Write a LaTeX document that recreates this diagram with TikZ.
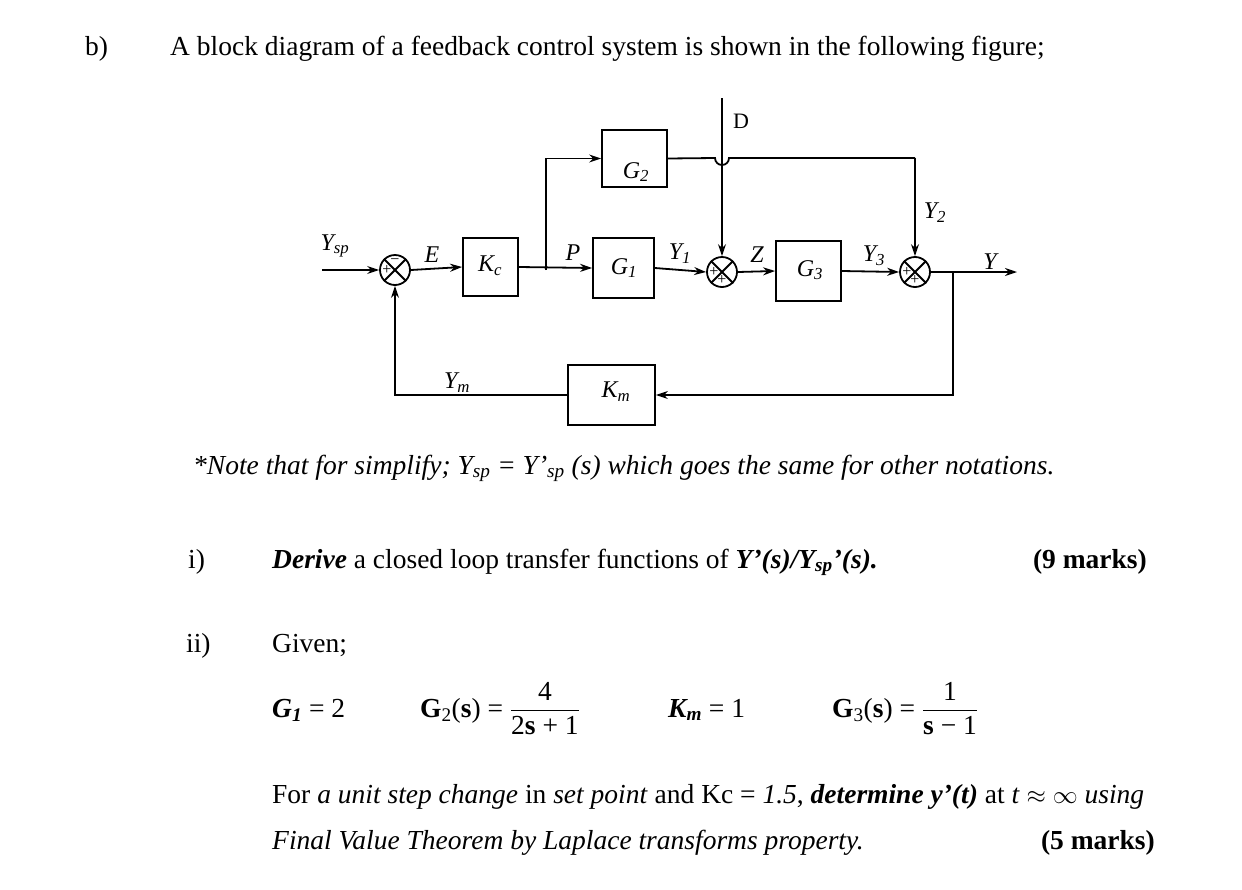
\documentclass[tikz,border=0pt]{standalone}
\usepackage{amsmath,amssymb}
\usepackage{fontspec}
\setmainfont{Liberation Serif}
\usetikzlibrary{arrows.meta}
\begin{document}
\begin{tikzpicture}[x=1pt,y=-1pt,
  blk/.style={draw,line width=1.8pt,inner sep=0pt},
  sum/.style={draw,circle,line width=1.8pt,minimum size=30pt,inner sep=0pt},
  ln/.style={line width=1.8pt},
  ar/.style={line width=1.8pt,-{Stealth[length=12pt,width=8pt]}},
  lab/.style={font=\fontsize{24}{26}\selectfont\itshape,inner sep=0pt},
  txt/.style={font=\fontsize{27.5}{30}\selectfont,inner sep=0pt,anchor=base west},
  sg/.style={font=\fontsize{16}{16}\selectfont,inner sep=0pt}]
\useasboundingbox (0,0) rectangle (1242,889);
% boxes
\node[blk,minimum width=55pt,minimum height=58pt] (kc) at (490.5,267) {};
\node[lab] at (490,266) {K\textsubscript{c}};
\node[blk,minimum width=65pt,minimum height=57pt] (g2) at (634.5,158.5) {};
\node[lab] at (636,172) {G\textsubscript{2}};
\node[blk,minimum width=61pt,minimum height=60pt] (g1) at (623.5,268) {};
\node[lab] at (624,268) {G\textsubscript{1}};
\node[blk,minimum width=65pt,minimum height=60pt] (g3) at (808.5,271) {};
\node[lab] at (810,270) {G\textsubscript{3}};
\node[blk,minimum width=87pt,minimum height=60pt] (km) at (611.5,395) {};
\node[lab] at (616,392) {K\textsubscript{m}};
% sums
\node[sum] (s1) at (395,270) {};
\node[sum] (s2) at (722,272) {};
\node[sum] (s3) at (915,272) {};
\foreach \s in {s1,s2,s3}{
  \draw[ln] (\s.north west) -- (\s.south east);
  \draw[ln] (\s.north east) -- (\s.south west);}
\node[sg] at ([xshift=-8pt]s1.center) {+};
\node[sg] at ([yshift=8pt]s1.center) {\textminus};
\node[sg] at ([yshift=-8pt]s2.center) {+};
\node[sg] at ([xshift=-8pt]s2.center) {+};
\node[sg] at ([yshift=-8pt]s3.center) {+};
\node[sg] at ([xshift=-8pt]s3.center) {+};
% coordinates
\coordinate (in) at (322,270);
\coordinate (br) at (546,270);
\coordinate (dtop) at (722,98);
\coordinate (yout) at (1017,272);
\coordinate (tap) at (953,272);
% connectors
\draw[ar] (in) -- (s1.west);
\draw[ar] (s1.east) -- (kc.west);
\draw[ar] (kc.east) -- (g1.west);
\draw[ar] (br) |- (g2.west);
\draw[ar] (g1.east) -- (s2.west);
\draw[ar] (dtop) -- (s2.north);
\draw[ar] (s2.east) -- (g3.west);
\draw[ar] (g3.east) -- (s3.west);
\draw[ln] (g2.east) -- (715,158) arc[start angle=180,end angle=0,radius=7] -- (915,158);
\draw[ar] (915,158) -- (s3.north);
\draw[ar] (s3.east) -- (yout);
\draw[ar] (tap) |- (km.east);
\draw[ar] (km.west) -| (s1.south);
% signal labels
\node[lab] at (335,246) {Y\textsubscript{sp}};
\node[lab] at (432,255) {E};
\node[lab] at (573,253) {P};
\node[lab] at (680,254) {Y\textsubscript{\itshape 1}};
\node[font=\fontsize{22}{24}\selectfont,inner sep=0pt] at (741,121) {D};
\node[lab] at (757,255) {Z};
\node[lab] at (874,256) {Y\textsubscript{3}};
\node[lab] at (935,213) {Y\textsubscript{2}};
\node[lab] at (990,262) {Y};
\node[lab] at (457,383) {Y\textsubscript{m}};
% text
\node[txt] at (85,55) {b)};
\node[txt] at (170,55) {A block diagram of a feedback control system is shown in the following figure;};
\node[txt] at (193,474) {\itshape *Note that for simplify; Y\textsubscript{sp} = Y’\textsubscript{sp} (s) which goes the same for other notations.};
\node[txt] at (188,568) {i)};
\node[txt] at (272,568) {\textbf{\textit{Derive}} a closed loop transfer functions of \textbf{\textit{Y’(s)/Y\textsubscript{sp}’(s).}}};
\node[txt,anchor=base east] at (1147,568) {\textbf{(9 marks)}};
\node[txt] at (186,652) {ii)};
\node[txt] at (272,652) {Given;};
\node[txt] at (272,717) {\textbf{\textit{G\textsubscript{1}}} = 2};
\node[txt] at (420,717) {\textbf{G}\textsubscript{2}(\textbf{s}) = $\dfrac{\text{4}}{\text{2\textbf{s} + 1}}$};
\node[txt] at (668,717) {\textbf{\textit{K\textsubscript{m}}} = 1};
\node[txt] at (832,717) {\textbf{G}\textsubscript{3}(\textbf{s}) = $\dfrac{\text{1}}{\text{\textbf{s} − 1}}$};
\node[txt] at (272,803) {For \textit{a unit step change} in \textit{set point} and Kc = \textit{1.5}, \textbf{\textit{determine y’(t)}} at \textit{t} $\approx\infty$ \textit{using}};
\node[txt] at (272,849) {\itshape Final Value Theorem by Laplace transforms property.};
\node[txt,anchor=base east] at (1155,849) {\textbf{(5 marks)}};
\end{tikzpicture}
\end{document}
